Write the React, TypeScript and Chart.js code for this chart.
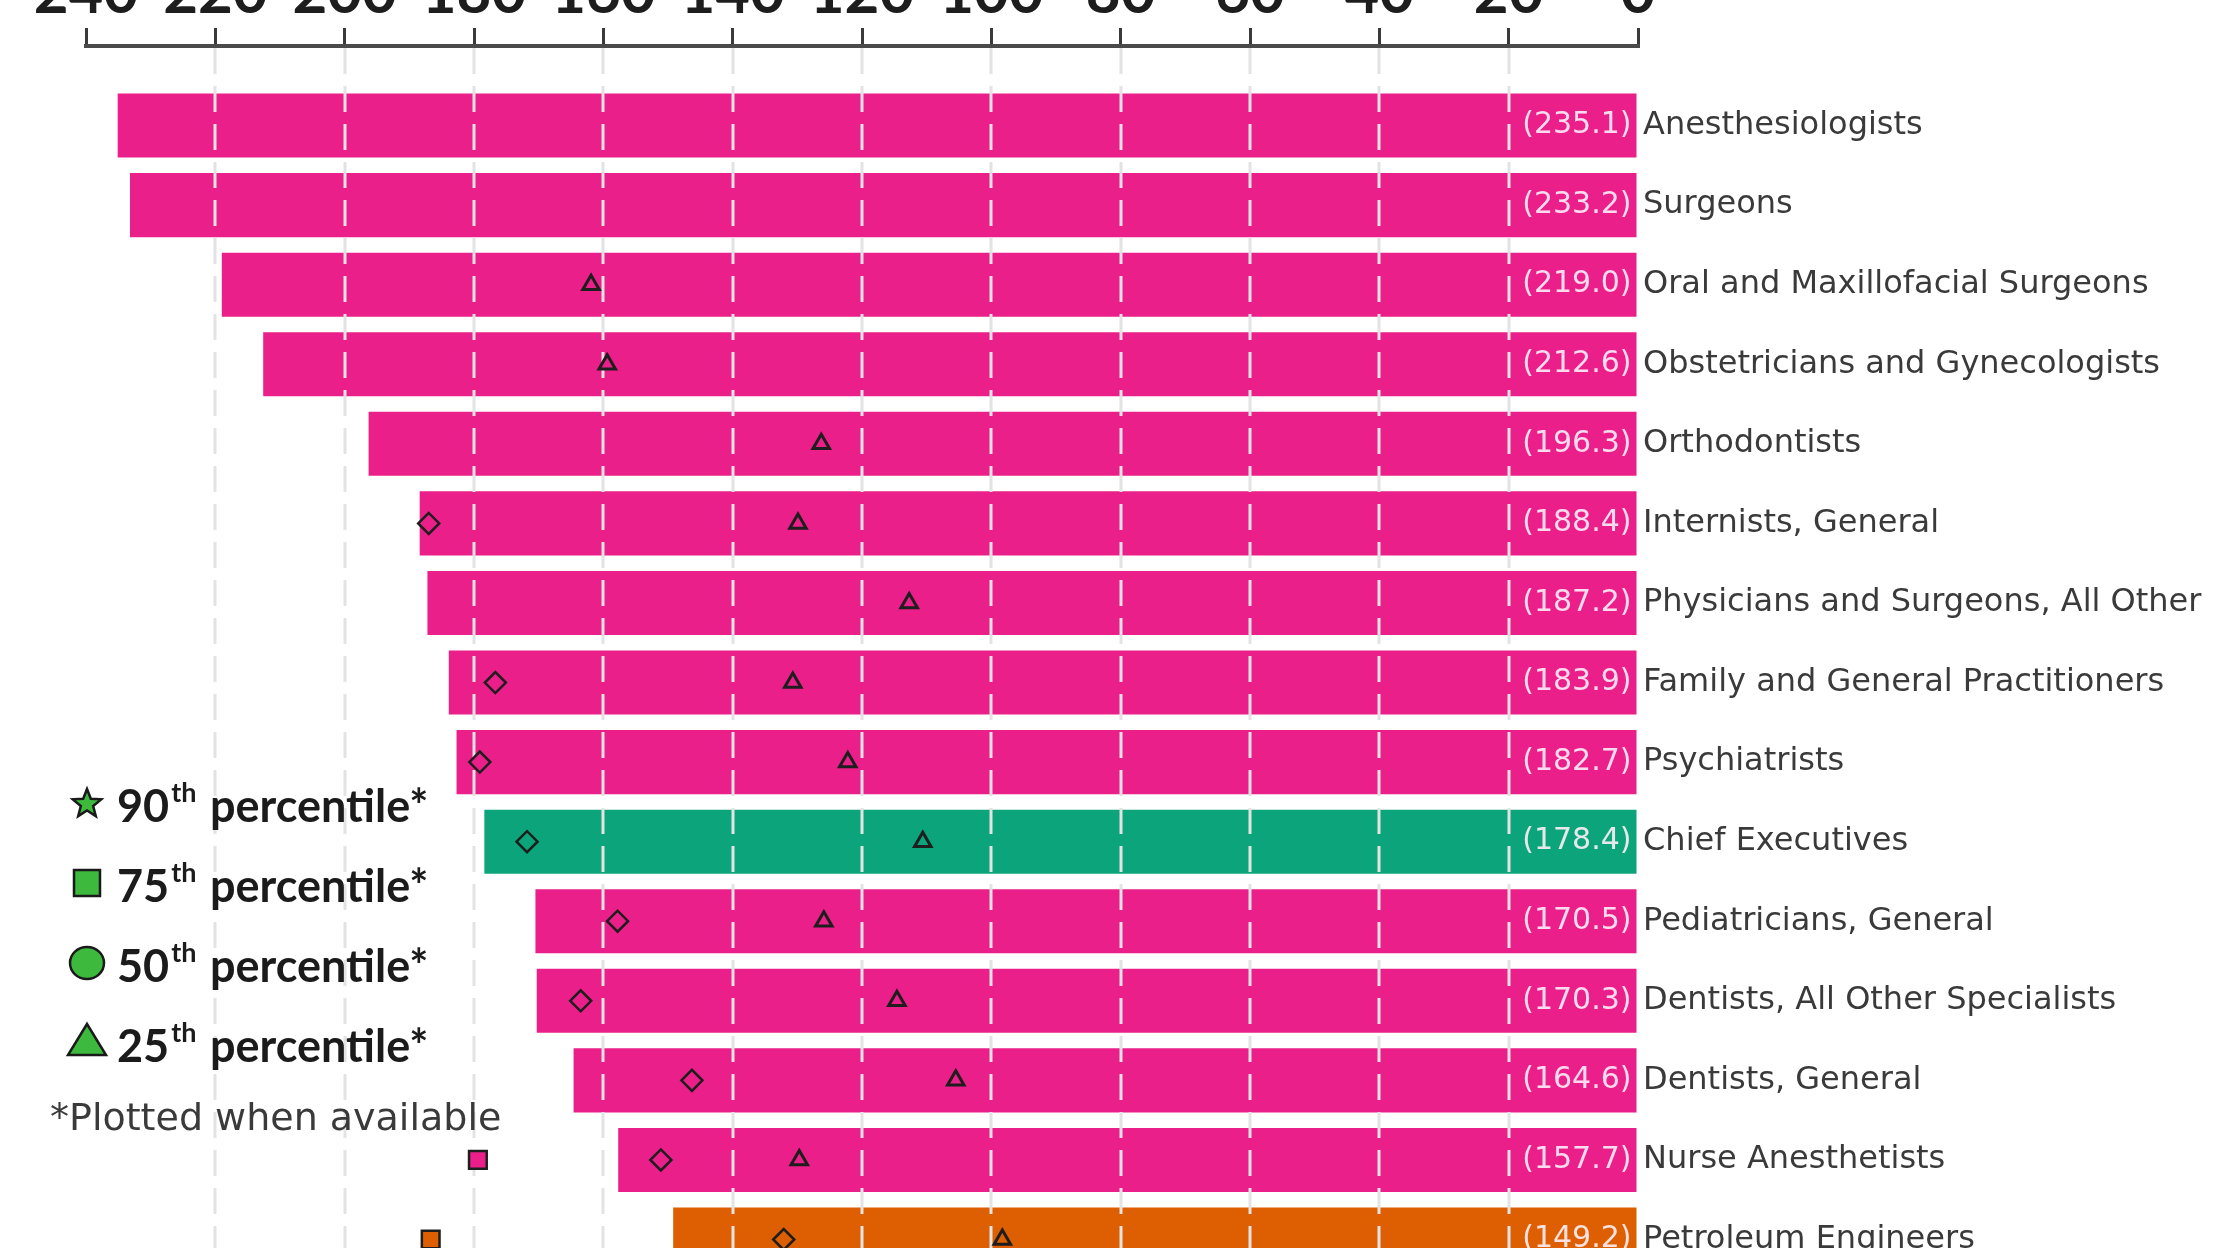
import React, { useEffect, useRef } from 'react';
import { Chart, registerables } from 'chart.js';

Chart.register(...registerables);

// ---------- data (annual mean wage, thousands of dollars) ----------
const categories = [
  'Anesthesiologists',
  'Surgeons',
  'Oral and Maxillofacial Surgeons',
  'Obstetricians and Gynecologists',
  'Orthodontists',
  'Internists, General',
  'Physicians and Surgeons, All Other',
  'Family and General Practitioners',
  'Psychiatrists',
  'Chief Executives',
  'Pediatricians, General',
  'Dentists, All Other Specialists',
  'Dentists, General',
  'Nurse Anesthetists',
  'Petroleum Engineers',
];
const meanWage = [235.1, 233.2, 219.0, 212.6, 196.3, 188.4, 187.2, 183.9, 182.7, 178.4, 170.5, 170.3, 164.6, 157.7, 149.2];
const pct25 = [null, null, 161.9, 159.4, 126.3, 129.9, 112.7, 130.7, 122.2, 110.6, 125.9, 114.6, 105.5, 129.7, 98.3];
const pct50 = [null, null, null, null, null, 187.0, null, 176.7, 179.1, 171.8, 157.8, 163.5, 146.3, 151.1, 132.1];
const pct75 = [null, null, null, null, null, null, null, null, null, null, null, null, null, 179.4, 186.7];
const pct90 = [null, null, null, null, null, null, null, null, null, null, null, null, null, null, null];
const sectors = [
  'health', 'health', 'health', 'health', 'health', 'health', 'health', 'health', 'health',
  'management',
  'health', 'health', 'health', 'health',
  'engineering',
];
const sectorColors: Record<string, string> = {
  health: '#EA1F8A',
  management: '#0CA47A',
  engineering: '#DD5F02',
};
const legendNumbers = ['90', '75', '50', '25'];
const legendWord = 'percentile*';
const legendNote = '*Plotted when available';
const axisMin = 0;
const axisMax = 240;
const axisStep = 20;

const FONT = 'Lato, "DejaVu Sans", sans-serif';
const WIDE = '"DejaVu Sans", Lato, sans-serif';

export default function App() {
  const canvasRef = useRef<HTMLCanvasElement | null>(null);

  useEffect(() => {
    if (!canvasRef.current) return;
    const labels = ['', ...categories];
    const colors = ['rgba(0,0,0,0)', ...sectors.map((s) => sectorColors[s])];
    const pad = (arr: (number | null)[]) => [null, ...arr];

    const markerCommon = {
      type: 'line' as const,
      showLine: false,
      pointBackgroundColor: colors,
      pointBorderColor: '#1e1e1e',
      pointBorderWidth: 2.5,
      clip: false as const,
      order: 0,
    };

    const gridOverBars = {
      id: 'gridOverBars',
      afterDatasetDraw(chart: any, args: any) {
        if (args.meta.type !== 'bar') return;
        const { ctx, chartArea } = chart;
        const x = chart.scales.x;
        ctx.save();
        ctx.strokeStyle = '#e3e3e3';
        ctx.lineWidth = 3;
        ctx.setLineDash([26, 12]);
        for (const t of x.ticks) {
          if (t.value === axisMax || t.value === axisMin) continue;
          const px = Math.round(x.getPixelForValue(t.value));
          ctx.beginPath();
          ctx.moveTo(px, chartArea.top + 2);
          ctx.lineTo(px, chart.height);
          ctx.stroke();
        }
        ctx.restore();
      },
    };

    const valueLabels = {
      id: 'valueLabels',
      afterDatasetsDraw(chart: any) {
        const idx = chart.data.datasets.findIndex((d: any) => d.type === 'bar');
        const meta = chart.getDatasetMeta(idx);
        const data = chart.data.datasets[idx].data;
        const { ctx } = chart;
        ctx.save();
        ctx.font = `30px ${WIDE}`;
        ctx.textAlign = 'right';
        ctx.textBaseline = 'middle';
        ctx.fillStyle = 'rgba(255,240,248,0.9)';
        meta.data.forEach((el: any, i: number) => {
          const v = data[i];
          if (v == null) return;
          const p = el.getProps(['base', 'y'], true);
          ctx.fillText(`(${Number(v).toFixed(1)})`, p.base - 5, p.y);
        });
        ctx.restore();
      },
    };

    const legendPlugin = {
      id: 'pctLegend',
      afterDraw(chart: any) {
        const { ctx } = chart;
        const cx = 87;
        const baselines = [822, 902, 982, 1062];
        const centers = [804, 883, 963, 1041];
        ctx.save();
        ctx.lineWidth = 2.5;
        ctx.strokeStyle = '#1a1a1a';
        ctx.fillStyle = '#3DBA3D';
        // star
        {
          const cy = centers[0];
          const R = 15, r = 6.5;
          ctx.beginPath();
          for (let k = 0; k < 10; k++) {
            const a = -Math.PI / 2 + (k * Math.PI) / 5;
            const rr = k % 2 === 0 ? R : r;
            const px = cx + Math.cos(a) * rr;
            const py = cy + Math.sin(a) * rr;
            if (k === 0) ctx.moveTo(px, py); else ctx.lineTo(px, py);
          }
          ctx.closePath();
          ctx.fill();
          ctx.stroke();
        }
        // square
        {
          const cy = centers[1];
          ctx.beginPath();
          ctx.rect(cx - 13, cy - 13, 26, 26);
          ctx.fill();
          ctx.stroke();
        }
        // circle
        {
          const cy = centers[2];
          ctx.beginPath();
          ctx.ellipse(cx, cy, 17, 16, 0, 0, Math.PI * 2);
          ctx.fill();
          ctx.stroke();
        }
        // triangle
        {
          const cy = centers[3];
          ctx.beginPath();
          ctx.moveTo(cx, cy - 17);
          ctx.lineTo(cx + 19, cy + 14);
          ctx.lineTo(cx - 19, cy + 14);
          ctx.closePath();
          ctx.fill();
          ctx.stroke();
        }
        // texts
        ctx.fillStyle = '#1b1b1b';
        ctx.textBaseline = 'alphabetic';
        ctx.textAlign = 'left';
        legendNumbers.forEach((num, i) => {
          const by = baselines[i];
          ctx.font = `bold 45px ${FONT}`;
          ctx.fillText(num, 117, by);
          const w = ctx.measureText(num).width;
          ctx.font = `bold 27px ${FONT}`;
          ctx.fillText('th', 117 + w + 2, by - 20);
          ctx.font = `bold 45px ${FONT}`;
          ctx.fillText(legendWord, 210, by);
        });
        ctx.font = `38px ${WIDE}`;
        ctx.fillStyle = '#3a3a3a';
        ctx.fillText(legendNote, 50, 1130);
        ctx.restore();
      },
    };

    const chart = new Chart(canvasRef.current, {
      data: {
        labels,
        datasets: [
          { ...markerCommon, label: '90th percentile', data: pad(pct90), pointStyle: 'star', pointRadius: 12 },
          { ...markerCommon, label: '75th percentile', data: pad(pct75), pointStyle: 'rect', pointRadius: 12.5 },
          { ...markerCommon, label: '50th percentile', data: pad(pct50), pointStyle: 'rectRot', pointRadius: 10.5 },
          { ...markerCommon, label: '25th percentile', data: pad(pct25), pointStyle: 'triangle', pointRadius: 9.5, pointBorderWidth: 3 },
          {
            type: 'bar',
            label: 'Annual mean wage',
            data: pad(meanWage),
            backgroundColor: colors,
            borderWidth: 0,
            categoryPercentage: 1,
            barPercentage: 0.805,
            clip: false,
            order: 10,
          },
        ] as any,
      },
      options: {
        indexAxis: 'y',
        responsive: true,
        maintainAspectRatio: false,
        animation: false,
        events: [],
        layout: { padding: { left: 86, right: 0, top: 0, bottom: 30.5 } },
        plugins: { legend: { display: false }, tooltip: { enabled: false } },
        scales: {
          x: {
            type: 'linear',
            position: 'top',
            reverse: true,
            min: axisMin,
            max: axisMax,
            ticks: {
              stepSize: axisStep,
              autoSkip: false,
              maxRotation: 0,
              color: '#1d1d1d',
              padding: 4,
              font: { family: FONT, size: 60, weight: 'bold', lineHeight: 1 },
            },
            grid: {
              drawOnChartArea: false,
              drawTicks: true,
              tickLength: 18,
              tickColor: '#3a3a3a',
              tickWidth: 3,
              lineWidth: 3,
            },
            border: { display: true, color: '#4a4a4a', width: 4 },
            afterFit: (s: any) => {
              s.height = 46;
            },
          },
          y: {
            type: 'category',
            position: 'right',
            offset: false,
            grid: { display: false, drawTicks: false },
            border: { display: false },
            ticks: {
              autoSkip: false,
              color: '#3a3a3a',
              padding: 5,
              font: { family: WIDE, size: 32 },
            },
            afterFit: (s: any) => {
              s.width = 582;
            },
          },
        },
      } as any,
      plugins: [gridOverBars, valueLabels, legendPlugin],
    });

    return () => chart.destroy();
  }, []);

  return (
    <div
      style={{
        position: 'fixed',
        left: 0,
        top: 0,
        width: 2220,
        height: 1248,
        overflow: 'hidden',
        background: '#ffffff',
      }}
    >
      <div style={{ position: 'relative', width: 2220, height: 1270 }}>
        <canvas ref={canvasRef} />
      </div>
    </div>
  );
}
